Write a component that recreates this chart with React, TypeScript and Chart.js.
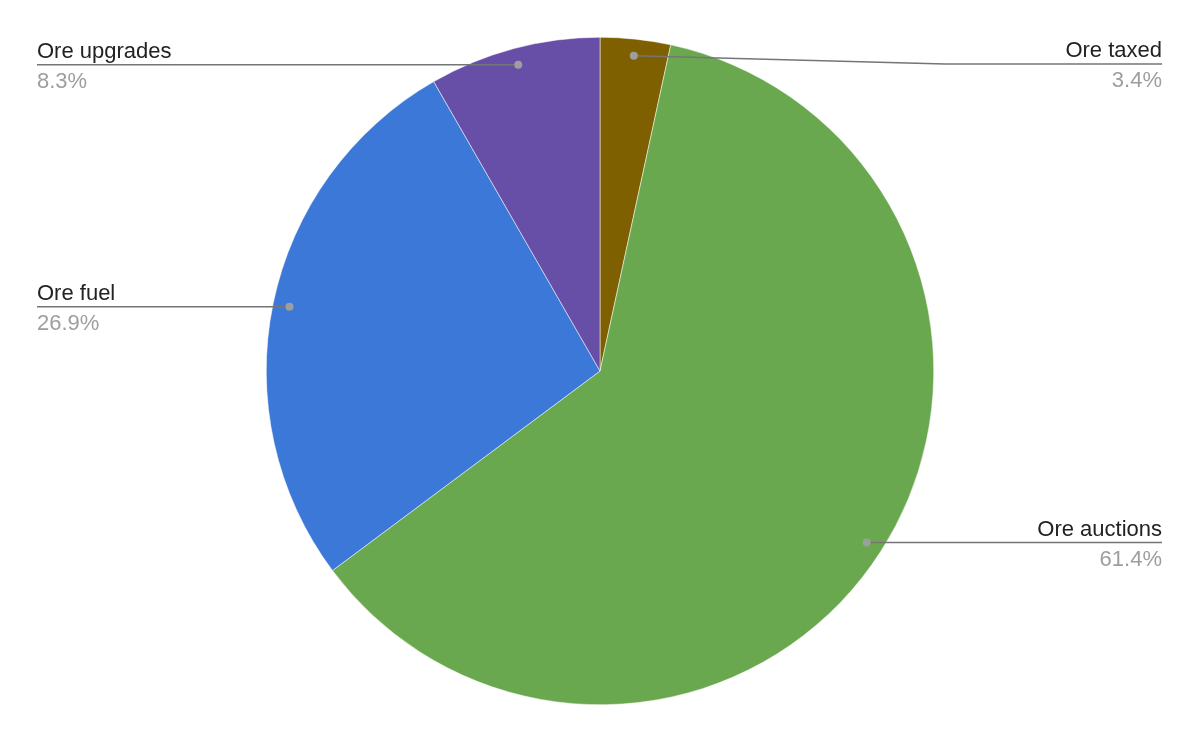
import React, { useEffect, useRef } from "react";
import { Chart, registerables } from "chart.js";

Chart.register(...registerables);

const categories = ["Ore taxed", "Ore auctions", "Ore fuel", "Ore upgrades"];
const values = [3.4, 61.4, 26.9, 8.3];
const percentLabels = ["3.4%", "61.4%", "26.9%", "8.3%"];
const colors = ["#7f6000", "#6aa84f", "#3c78d8", "#674ea7"];

const FONT = "Arial, 'Liberation Sans', sans-serif";

const calloutPlugin = {
  id: "callouts",
  afterDatasetsDraw(chart: any) {
    const ctx = chart.ctx as CanvasRenderingContext2D;
    const meta = chart.getDatasetMeta(0);
    const leftX = 37;
    const rightX = 1162;
    meta.data.forEach((arc: any, i: number) => {
      const { x, y, startAngle, endAngle, outerRadius } = arc.getProps(
        ["x", "y", "startAngle", "endAngle", "outerRadius"],
        true
      );
      const mid = (startAngle + endAngle) / 2;
      const dx = x + Math.cos(mid) * outerRadius * 0.95;
      const dy = y + Math.sin(mid) * outerRadius * 0.95;
      const right = Math.cos(mid) > 0;
      const ly = Math.max(dy, 64);
      ctx.save();
      ctx.strokeStyle = "#757575";
      ctx.lineWidth = 1.5;
      ctx.beginPath();
      if (right) {
        ctx.moveTo(dx, dy);
        if (Math.abs(ly - dy) > 0.5) {
          ctx.lineTo(945, ly);
        }
        ctx.lineTo(rightX, ly);
      } else {
        ctx.moveTo(dx, dy);
        ctx.lineTo(leftX, ly);
      }
      ctx.stroke();
      ctx.fillStyle = "#9e9e9e";
      ctx.beginPath();
      ctx.arc(dx, dy, 4, 0, Math.PI * 2);
      ctx.fill();
      ctx.font = `22px ${FONT}`;
      ctx.textAlign = right ? "right" : "left";
      ctx.textBaseline = "alphabetic";
      const tx = right ? rightX : leftX;
      ctx.fillStyle = "#222222";
      ctx.fillText(categories[i], tx, ly - 7);
      ctx.fillStyle = "#9e9e9e";
      ctx.fillText(percentLabels[i], tx, ly + 23);
      ctx.restore();
    });
  },
};

export default function App() {
  const ref = useRef<HTMLCanvasElement>(null);
  useEffect(() => {
    if (!ref.current) return;
    const chart = new Chart(ref.current, {
      type: "pie",
      data: {
        labels: categories,
        datasets: [
          {
            data: values,
            backgroundColor: colors,
            borderColor: "#ffffff",
            borderWidth: 0.5,
          },
        ],
      },
      options: {
        responsive: false,
        animation: false,
        layout: { padding: { top: 37, bottom: 37, left: 0, right: 0 } },
        plugins: {
          legend: { display: false },
          tooltip: { enabled: false },
          title: { display: false },
        },
      },
      plugins: [calloutPlugin],
    });
    return () => chart.destroy();
  }, []);
  return (
    <div style={{ position: "fixed", left: 0, top: 0, width: 1200, height: 742, background: "#ffffff" }}>
      <canvas ref={ref} width={1200} height={742} style={{ display: "block" }} />
    </div>
  );
}
